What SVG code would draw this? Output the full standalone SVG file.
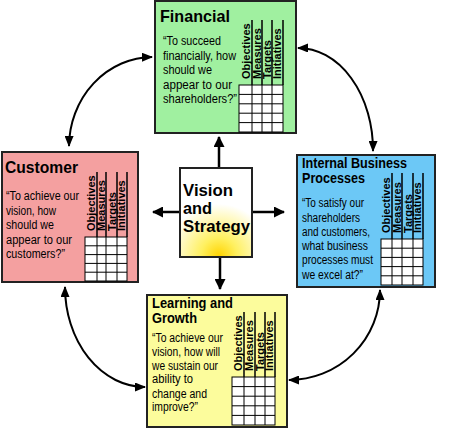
<svg xmlns="http://www.w3.org/2000/svg" width="450" height="430" viewBox="0 0 450 430">
<style>
.box{stroke:#222;stroke-width:2}
.t{font-family:"Liberation Sans",Arial,sans-serif;font-weight:bold;font-size:17px;fill:#000}
.t2{font-family:"Liberation Sans",Arial,sans-serif;font-weight:bold;font-size:14.5px;fill:#000}
.v{font-family:"Liberation Sans",Arial,sans-serif;font-weight:bold;font-size:16px;fill:#000}
.q{font-family:"Liberation Sans",Arial,sans-serif;font-size:12px;fill:#000}
.h{font-family:"Liberation Sans",Arial,sans-serif;font-weight:bold;font-size:11px;fill:#000}
.g{fill:#fff;stroke:#000;stroke-width:1}
.hl{fill:none;stroke:#000;stroke-width:1.5}
.c{fill:none;stroke:#000;stroke-width:2}
.s{fill:none;stroke:#000;stroke-width:2.5}
</style>
<defs>
<marker id="ah" markerUnits="userSpaceOnUse" markerWidth="11" markerHeight="9" refX="10" refY="4.5" orient="auto-start-reverse">
<path d="M0,0 L11,4.5 L0,9 z" fill="#000"/>
</marker>
<marker id="as" markerUnits="userSpaceOnUse" markerWidth="11" markerHeight="11" refX="10" refY="5.5" orient="auto">
<path d="M0,0 L11,5.5 L0,11 z" fill="#000"/>
</marker>
<radialGradient id="vg" gradientUnits="userSpaceOnUse" cx="219" cy="256" r="52">
<stop offset="0" stop-color="#ffd400"/>
<stop offset="0.35" stop-color="#fff060"/>
<stop offset="1" stop-color="#ffffff"/>
</radialGradient>
</defs>

<g id="connectors">
<path class="c" d="M69 146 A84 90 0 0 1 152 57" marker-start="url(#ah)" marker-end="url(#ah)"/>
<path class="c" d="M298 48 A75 102 0 0 1 373 151" marker-start="url(#ah)" marker-end="url(#ah)"/>
<path class="c" d="M65 287 A80 100 0 0 0 145 387" marker-start="url(#ah)" marker-end="url(#ah)"/>
<path class="c" d="M380 290 A91 90 0 0 1 289 380" marker-start="url(#ah)" marker-end="url(#ah)"/>
<path class="s" d="M219 168 V137" marker-end="url(#as)"/>
<path class="s" d="M180 212 H153" marker-end="url(#as)"/>
<path class="s" d="M252 212 H284" marker-end="url(#as)"/>
<path class="s" d="M220 257 V289" marker-end="url(#as)"/>
</g>

<g id="financial">
<rect class="box" x="155" y="1" width="141" height="132" fill="#a0f0a0"/>
<text class="t" x="160" y="22" textLength="70" lengthAdjust="spacingAndGlyphs">Financial</text>
<text class="q" x="163" y="45" textLength="58" lengthAdjust="spacingAndGlyphs">“To succeed</text>
<text class="q" x="163" y="60" textLength="73" lengthAdjust="spacingAndGlyphs">financially, how</text>
<text class="q" x="163" y="74" textLength="49" lengthAdjust="spacingAndGlyphs">should we</text>
<text class="q" x="163" y="88.5" textLength="69" lengthAdjust="spacingAndGlyphs">appear to our</text>
<text class="q" x="163" y="102.5" textLength="74" lengthAdjust="spacingAndGlyphs">shareholders?”</text>
<path class="hl" d="M252 20V85M262 20V85M272 20V85M283 20V85"/>
<text class="h" transform="translate(250,79) rotate(-90)">Objectives</text>
<text class="h" transform="translate(260.5,79) rotate(-90)">Measures</text>
<text class="h" transform="translate(270.5,79) rotate(-90)">Targets</text>
<text class="h" transform="translate(281,79) rotate(-90)">Initiatives</text>
<rect class="g" x="239" y="85" width="44" height="47"/>
<path class="g" d="M252 85V132M262 85V132M272 85V132M239 94.4H283M239 103.8H283M239 113.2H283M239 122.6H283"/>
</g>

<g id="customer">
<rect class="box" x="2" y="152" width="136" height="130" fill="#f4a0a0"/>
<text class="t" x="5" y="173" textLength="73" lengthAdjust="spacingAndGlyphs">Customer</text>
<text class="q" x="6" y="200" textLength="73" lengthAdjust="spacingAndGlyphs">“To achieve our</text>
<text class="q" x="6" y="215" textLength="50" lengthAdjust="spacingAndGlyphs">vision, how</text>
<text class="q" x="6" y="229" textLength="48" lengthAdjust="spacingAndGlyphs">should we</text>
<text class="q" x="6" y="244" textLength="66" lengthAdjust="spacingAndGlyphs">appear to our</text>
<text class="q" x="6" y="258" textLength="59" lengthAdjust="spacingAndGlyphs">customers?”</text>
<path class="hl" d="M97 172V237M106 172V237M117 172V237M127 172V237"/>
<text class="h" transform="translate(95,231) rotate(-90)">Objectives</text>
<text class="h" transform="translate(104.5,231) rotate(-90)">Measures</text>
<text class="h" transform="translate(115.5,231) rotate(-90)">Targets</text>
<text class="h" transform="translate(125,231) rotate(-90)">Initiatives</text>
<rect class="g" x="85" y="237" width="42" height="44"/>
<path class="g" d="M97 237V281M106 237V281M117 237V281M85 245.8H127M85 254.6H127M85 263.4H127M85 272.2H127"/>
</g>

<g id="internal-business-processes">
<rect class="box" x="297" y="155" width="138" height="132" fill="#6cc8f6"/>
<text class="t2" x="302" y="168" textLength="105" lengthAdjust="spacingAndGlyphs">Internal Business</text>
<text class="t2" x="302" y="183" textLength="63" lengthAdjust="spacingAndGlyphs">Processes</text>
<text class="q" x="302" y="207" textLength="62" lengthAdjust="spacingAndGlyphs">“To satisfy our</text>
<text class="q" x="302" y="221.5" textLength="58" lengthAdjust="spacingAndGlyphs">shareholders</text>
<text class="q" x="302" y="236" textLength="68" lengthAdjust="spacingAndGlyphs">and customers,</text>
<text class="q" x="302" y="250" textLength="66" lengthAdjust="spacingAndGlyphs">what business</text>
<text class="q" x="302" y="264" textLength="71" lengthAdjust="spacingAndGlyphs">processes must</text>
<text class="q" x="302" y="278.5" textLength="61" lengthAdjust="spacingAndGlyphs">we excel at?”</text>
<path class="hl" d="M392 173V239M402 173V239M413 173V239M423 173V239"/>
<text class="h" transform="translate(390,233) rotate(-90)">Objectives</text>
<text class="h" transform="translate(400.5,233) rotate(-90)">Measures</text>
<text class="h" transform="translate(411.5,233) rotate(-90)">Targets</text>
<text class="h" transform="translate(421,233) rotate(-90)">Initiatives</text>
<rect class="g" x="381" y="239" width="42" height="46"/>
<path class="g" d="M392 239V285M402 239V285M413 239V285M381 248.2H423M381 257.4H423M381 266.6H423M381 275.8H423"/>
</g>

<g id="learning-and-growth">
<rect class="box" x="147" y="295" width="140" height="132" fill="#fcfc9c"/>
<text class="t2" x="152" y="308" textLength="81" lengthAdjust="spacingAndGlyphs">Learning and</text>
<text class="t2" x="152" y="323" textLength="45" lengthAdjust="spacingAndGlyphs">Growth</text>
<text class="q" x="152" y="342" textLength="71" lengthAdjust="spacingAndGlyphs">“To achieve our</text>
<text class="q" x="152" y="356" textLength="68" lengthAdjust="spacingAndGlyphs">vision, how will</text>
<text class="q" x="152" y="369.5" textLength="66" lengthAdjust="spacingAndGlyphs">we sustain our</text>
<text class="q" x="152" y="383" textLength="41" lengthAdjust="spacingAndGlyphs">ability to</text>
<text class="q" x="152" y="397.5" textLength="55" lengthAdjust="spacingAndGlyphs">change and</text>
<text class="q" x="152" y="411" textLength="46" lengthAdjust="spacingAndGlyphs">improve?”</text>
<path class="hl" d="M244 312V377M255 312V377M265 312V377M275 312V377"/>
<text class="h" transform="translate(242,371) rotate(-90)">Objectives</text>
<text class="h" transform="translate(253,371) rotate(-90)">Measures</text>
<text class="h" transform="translate(263.5,371) rotate(-90)">Targets</text>
<text class="h" transform="translate(273,371) rotate(-90)">Initiatives</text>
<rect class="g" x="232" y="377" width="43" height="48"/>
<path class="g" d="M244 377V425M255 377V425M265 377V425M232 386.6H275M232 396.2H275M232 405.8H275M232 415.4H275"/>
</g>

<g id="vision-and-strategy">
<rect class="box" x="180" y="168" width="72" height="89" fill="url(#vg)"/>
<text class="v" x="183" y="196" textLength="50" lengthAdjust="spacingAndGlyphs">Vision</text>
<text class="v" x="183" y="214" textLength="29" lengthAdjust="spacingAndGlyphs">and</text>
<text class="v" x="183" y="232" textLength="67" lengthAdjust="spacingAndGlyphs">Strategy</text>
</g>
</svg>
